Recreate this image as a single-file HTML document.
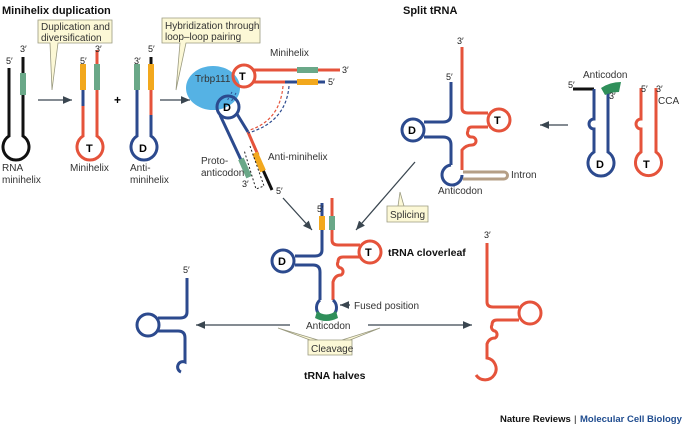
<!DOCTYPE html>
<html><head><style>
body{margin:0;background:#fff}
svg{display:block;font-family:"Liberation Sans",sans-serif}
.b{stroke:#2c4a8e;fill:none;stroke-width:3}
.r{stroke:#e5533b;fill:none;stroke-width:3}
.k{stroke:#111;fill:none;stroke-width:3}
.t{font-size:10px;fill:#333}
.s{font-size:9px;fill:#222}
.ar{stroke:#3a4650;stroke-width:1.3;fill:none}
</style></head><body>
<svg width="685" height="426" viewBox="0 0 685 426">
<defs><marker id="a" markerWidth="8" markerHeight="8" refX="7" refY="4" orient="auto"><path d="M0,1 L7,4 L0,7z" fill="#3a4650"/></marker></defs>
<text x="2" y="14" font-size="11" font-weight="bold" fill="#111">Minihelix duplication</text>
<text x="403" y="14" font-size="11" font-weight="bold" fill="#111">Split tRNA</text>

<!-- RNA minihelix -->
<path class="k" d="M9,68 V136 A13,13 0 1 0 23,136 V57"/>
<rect x="20" y="73" width="6" height="22" fill="#6aa888"/>
<text class="s" x="6" y="64">5′</text><text class="s" x="20" y="52">3′</text>
<text class="t" x="2" y="171">RNA</text><text class="t" x="2" y="183">minihelix</text>

<!-- callout 1 -->
<path d="M38,20 H112 V43 H58 L52,90 L50,43 H38z" fill="#fcf8d6" stroke="#9a9a80" stroke-width="0.8"/>
<text class="t" x="41" y="30">Duplication and</text><text class="t" x="41" y="41">diversification</text>
<line class="ar" x1="38" y1="100" x2="72" y2="100" marker-end="url(#a)"/>

<!-- Minihelix -->
<path class="b" d="M83,67 V106"/><path class="r" d="M83,106 V136 A13,13 0 1 0 97,136 V50"/>
<rect x="80" y="64" width="6" height="26" fill="#f2a81d"/><rect x="94" y="64" width="6" height="26" fill="#6aa888"/>
<text class="s" x="80" y="64">5′</text><text class="s" x="95" y="52">3′</text>
<text x="86" y="152" font-size="11" font-weight="bold">T</text>
<text class="t" x="70" y="171">Minihelix</text>
<text x="114" y="104" font-size="12" font-weight="bold">+</text>

<!-- Anti-minihelix -->
<path class="b" d="M137,70 V136 A13,13 0 1 0 151,136 V115"/><path class="r" d="M151,115 V90"/><path class="k" d="M151,57 V66"/>
<rect x="134" y="64" width="6" height="26" fill="#6aa888"/><rect x="148" y="64" width="6" height="26" fill="#f2a81d"/>
<text class="s" x="134" y="64">3′</text><text class="s" x="148" y="52">5′</text>
<text x="139" y="152" font-size="11" font-weight="bold">D</text>
<text class="t" x="130" y="171">Anti-</text><text class="t" x="130" y="183">minihelix</text>

<!-- callout 2 -->
<path d="M162,18 H260 V43 H186 L176,90 L180,43 H162z" fill="#fcf8d6" stroke="#9a9a80" stroke-width="0.8"/>
<text class="t" x="165" y="29">Hybridization through</text><text class="t" x="165" y="40">loop–loop pairing</text>
<line class="ar" x1="160" y1="100" x2="190" y2="100" marker-end="url(#a)"/>

<!-- hybrid -->
<ellipse cx="213" cy="88" rx="27" ry="22" fill="#55b2e4"/>
<text class="t" x="195" y="82">Trbp111</text>
<path class="r" d="M254,70 H340 M254,82 H285"/>
<circle class="r" cx="244" cy="76" r="11"/>
<path class="b" d="M285,82 H325"/>
<rect x="297" y="67" width="21" height="6" fill="#6aa888"/><rect x="297" y="79" width="21" height="6" fill="#f2a81d"/>
<text x="239" y="80" font-size="11" font-weight="bold">T</text>
<text class="t" x="270" y="56">Minihelix</text>
<text class="s" x="342" y="73">3′</text><text class="s" x="328" y="85">5′</text>
<circle class="b" cx="228" cy="107" r="11"/>
<text x="223" y="111" font-size="11" font-weight="bold">D</text>
<path class="b" d="M220,115 L249,177 M237,114 L248,132"/>
<path class="r" d="M248,132 L258,155"/><path class="k" d="M263,170 L272,190"/>
<rect x="242" y="158" width="6" height="20" fill="#6aa888" transform="rotate(-24 245 168)"/>
<rect x="256" y="152" width="6" height="20" fill="#f2a81d" transform="rotate(-24 259 162)"/>
<path d="M283,86 Q280,120 250,130" stroke="#e5533b" stroke-width="1.2" stroke-dasharray="3,2" fill="none"/>
<path d="M289,86 Q286,122 248,133" stroke="#2c4a8e" stroke-width="1.2" stroke-dasharray="3,2" fill="none"/>
<path d="M232,92 L227,101 M236,93 L231,102" stroke="#2c4a8e" stroke-width="1" stroke-dasharray="2,1.5"/>
<path d="M250,146 L264,186 L256,189 L244,150" stroke="#222" stroke-width="1" stroke-dasharray="2,2" fill="none"/>
<text class="t" x="268" y="160">Anti-minihelix</text>
<text class="t" x="201" y="164">Proto-</text><text class="t" x="201" y="176">anticodon</text>
<text class="s" x="242" y="187">3′</text><text class="s" x="276" y="194">5′</text>
<line class="ar" x1="283" y1="198" x2="312" y2="230" marker-end="url(#a)"/>

<!-- split intermediate -->
<path class="b" d="M451,82 V114 Q451,122 443,122 H424 M424,137 H443 Q451,137 451,145 V165"/>
<circle class="b" cx="413" cy="130" r="11"/>
<text x="408" y="134" font-size="11" font-weight="bold">D</text>
<path class="b" d="M451,165 A10,10 0 1 0 462,175"/>
<path class="r" d="M462,47 V108 Q462,113 468,113 H488 M488,127 H472 Q468,127 468,131 A4,4 0 0 0 472,137 A4,4 0 0 1 472,145 Q466,145 462,150 V170"/>
<circle class="r" cx="499" cy="120" r="11"/>
<text x="494" y="124" font-size="11" font-weight="bold">T</text>
<path d="M463,172 H504 A3.5,3.5 0 0 1 504,179 H463" stroke="#b59f86" stroke-width="3" fill="none"/>
<text class="t" x="511" y="178">Intron</text>
<text class="t" x="438" y="194">Anticodon</text>
<text class="s" x="446" y="80">5′</text><text class="s" x="457" y="44">3′</text>
<line class="ar" x1="568" y1="125" x2="540" y2="125" marker-end="url(#a)"/>

<!-- right pieces -->
<path class="k" d="M573,89 H594"/>
<path class="b" d="M594,89 V119 A4,4 0 0 0 594,129 V152 A13,13 0 1 0 608,152 V91"/>
<path d="M601,88 Q610,82 621,82 L619,92 Q611,92 605,95z" fill="#2f8f5a"/>
<text class="t" x="583" y="78">Anticodon</text>
<text class="s" x="568" y="88">5′</text><text class="s" x="609" y="99">3′</text>
<text x="596" y="168" font-size="11" font-weight="bold">D</text>
<path class="r" d="M641,88 V119 A4,4 0 0 0 641,129 V152 A13,13 0 1 0 656,152 V88"/>
<text class="s" x="641" y="92">5′</text><text class="s" x="656" y="92">3′</text>
<text class="t" x="658" y="104">CCA</text>
<text x="643" y="168" font-size="11" font-weight="bold">T</text>

<!-- splicing -->
<line class="ar" x1="415" y1="162" x2="356" y2="230" marker-end="url(#a)"/>
<path d="M387,206 H428 V222 H387z M398,206 L400,192 L404,206" fill="#fcf8d6" stroke="#9a9a80" stroke-width="0.8"/>
<text class="t" x="390" y="218">Splicing</text>

<!-- cloverleaf -->
<path class="b" d="M322,203 V250 Q322,256 315,256 H295 M295,265 H313 Q320,265 320,272 V300"/>
<circle class="b" cx="283" cy="261" r="11"/>
<text x="278" y="265" font-size="11" font-weight="bold">D</text>
<path class="r" d="M332,198 V240 Q332,245 338,245 H360 M360,257 H343 Q338,257 338,262 A4,4 0 0 0 341,268 A4,4 0 0 1 341,275 Q335,275 333,282 V300"/>
<circle class="r" cx="370" cy="252" r="11"/>
<text x="365" y="256" font-size="11" font-weight="bold">T</text>
<path class="b" d="M320,300 A10,10 0 1 0 333,300"/>
<path d="M317,311 Q326,318 336,311 L338,318 Q326,324 315,318z" fill="#2f8f5a"/>
<rect x="319" y="216" width="6" height="14" fill="#f2a81d"/><rect x="329" y="216" width="6" height="14" fill="#6aa888"/>
<text class="s" x="317" y="212">5′</text>
<text x="388" y="256" font-size="10.5" font-weight="bold" fill="#111">tRNA cloverleaf</text>
<line class="ar" x1="350" y1="305" x2="340" y2="305" marker-end="url(#a)"/>
<text class="t" x="354" y="309">Fused position</text>
<text class="t" x="306" y="329">Anticodon</text>
<line class="ar" x1="290" y1="325" x2="196" y2="325" marker-end="url(#a)"/>
<line class="ar" x1="368" y1="325" x2="472" y2="325" marker-end="url(#a)"/>
<path d="M308,340 H352 V355 H308z M310,340 L278,328 L318,340 M342,340 L380,328 L350,340" fill="#fcf8d6" stroke="#9a9a80" stroke-width="0.8"/>
<text class="t" x="311" y="352">Cleavage</text>
<text x="304" y="379" font-size="10.5" font-weight="bold" fill="#111">tRNA halves</text>

<!-- halves -->
<path class="b" d="M187,278 V312 Q187,318 180,318 H158 M158,331 H178 Q185,331 185,338 V362 A5,5 0 0 0 181,372"/>
<circle class="b" cx="148" cy="325" r="11"/>
<text class="s" x="183" y="273">5′</text>
<path class="r" d="M487,243 V302 Q487,307 493,307 H519 M519,320 H497 Q492,320 492,325 A4,4 0 0 0 495,331 A4,4 0 0 1 495,338 Q489,338 487,344 V358 A11,11 0 1 1 476,375"/>
<circle class="r" cx="530" cy="313" r="11"/>
<text class="s" x="484" y="238">3′</text>

<text x="500" y="422" font-size="9.5" font-weight="bold" fill="#111">Nature Reviews</text>
<text x="574" y="422" font-size="9.5" fill="#111">|</text>
<text x="580" y="422" font-size="9.5" font-weight="bold" fill="#1f4c8f">Molecular Cell Biology</text>
</svg>
</body></html>
